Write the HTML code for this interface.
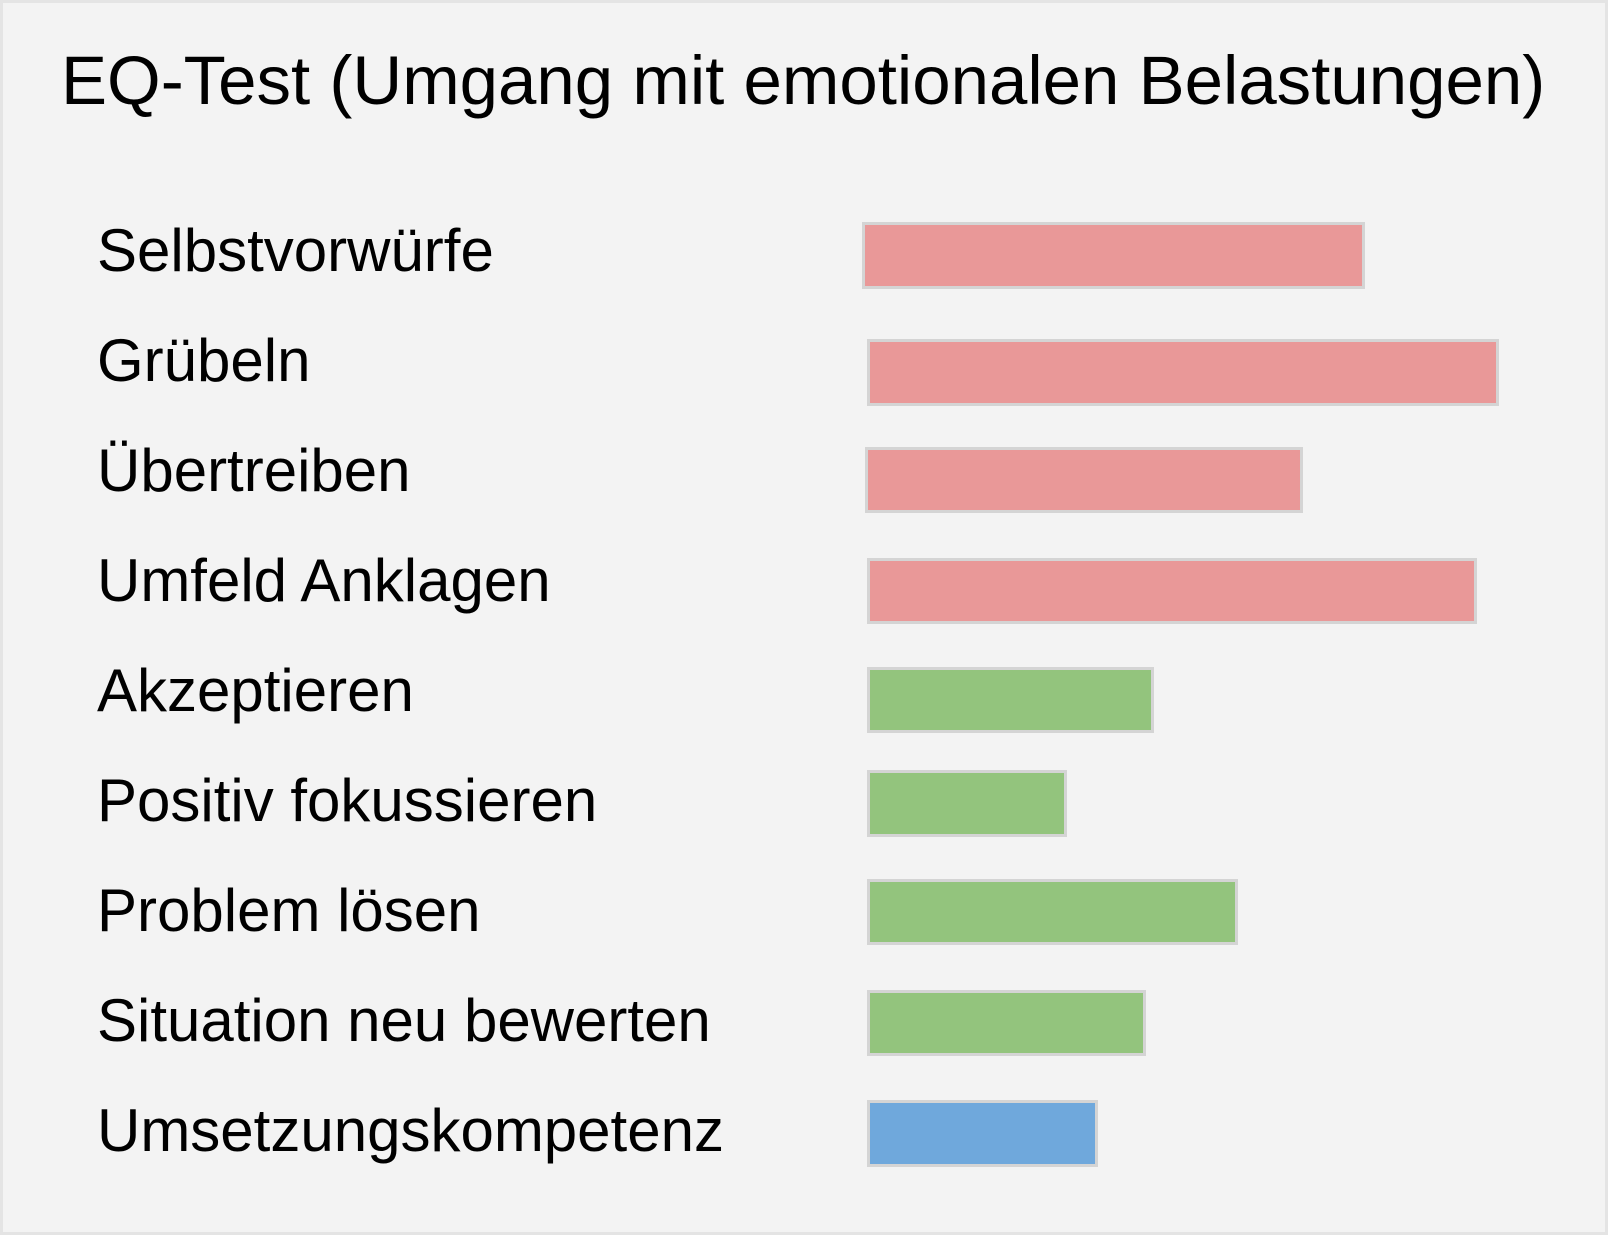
<!DOCTYPE html>
<html><head><meta charset="utf-8"><style>
html,body{margin:0;padding:0;background:#fff;}
#c{position:relative;width:1602px;height:1229px;background:#f3f3f3;border:3px solid #e4e4e4;overflow:hidden;font-family:"Liberation Sans",sans-serif;color:#000;}
.t{position:absolute;left:58px;top:38px;font-size:69px;white-space:nowrap;}
.l{position:absolute;left:94px;font-size:60px;white-space:nowrap;line-height:1;}
.b{position:absolute;box-sizing:border-box;border:3px solid #d4d4d4;}
.r{background:#e99898}.g{background:#93c47d}.u{background:#6fa8dc}
</style></head><body><div id="c">
<div class="t">EQ-Test (Umgang mit emotionalen Belastungen)</div>
<div class="l" style="top:218px">Selbstvorwürfe</div>
<div class="l" style="top:328px">Grübeln</div>
<div class="l" style="top:438px">Übertreiben</div>
<div class="l" style="top:548px">Umfeld Anklagen</div>
<div class="l" style="top:658px">Akzeptieren</div>
<div class="l" style="top:768px">Positiv fokussieren</div>
<div class="l" style="top:878px">Problem lösen</div>
<div class="l" style="top:988px">Situation neu bewerten</div>
<div class="l" style="top:1098px">Umsetzungskompetenz</div>
<div class="b r" style="left:859px;top:219px;width:503px;height:67px"></div>
<div class="b r" style="left:864px;top:336px;width:632px;height:67px"></div>
<div class="b r" style="left:862px;top:444px;width:438px;height:66px"></div>
<div class="b r" style="left:864px;top:555px;width:610px;height:66px"></div>
<div class="b g" style="left:864px;top:664px;width:287px;height:66px"></div>
<div class="b g" style="left:864px;top:767px;width:200px;height:67px"></div>
<div class="b g" style="left:864px;top:876px;width:371px;height:66px"></div>
<div class="b g" style="left:864px;top:987px;width:279px;height:66px"></div>
<div class="b u" style="left:864px;top:1097px;width:231px;height:67px"></div>
</div></body></html>
